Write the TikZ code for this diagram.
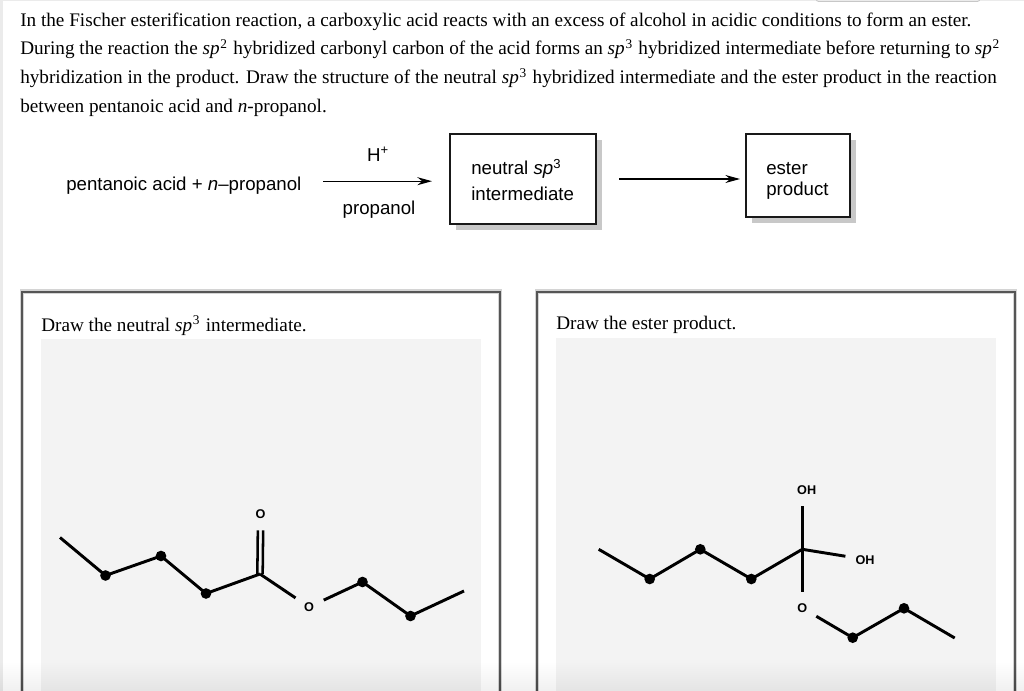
\documentclass[tikz,border=0pt]{standalone}
\usepackage{fontspec}
\setmainfont{Liberation Serif}
\setsansfont{Liberation Sans}
\usetikzlibrary{arrows.meta}
\definecolor{panelbg}{HTML}{F3F3F3}
\definecolor{shadowc}{HTML}{C8C8C8}
\definecolor{panelline}{HTML}{555555}
\definecolor{haloc}{HTML}{D4D4D4}
\newcommand{\spx}[1]{\textit{sp}\kern0.6pt\textsuperscript{#1}\kern4.2pt}
\tikzset{
  x=0.75pt,y=-0.75pt,
  para/.style={anchor=base west,inner sep=0pt,font=\rmfamily\fontsize{14.4pt}{16pt}\selectfont},
  sans/.style={inner sep=0pt,font=\sffamily\fontsize{14pt}{16pt}\selectfont},
  prompt/.style={para},
  flowbox/.style={draw=black!90,line width=1.2pt,fill=white,inner sep=0pt},
  flowarrow/.style={-{Stealth[length=11pt,width=6pt]},line width=0.95pt},
  bond/.style={line width=2.2pt,black},
  atomdot/.style={circle,fill=black,inner sep=0pt,minimum size=8pt},
  junction/.style={inner sep=0pt,minimum size=0pt},
  oxygen/.style={circle,inner sep=0pt,minimum size=24pt,font=\sffamily\bfseries\fontsize{9.5pt}{10pt}\selectfont},
  hydroxyl/.style={rectangle,inner sep=0pt,minimum width=29pt,minimum height=24pt,font=\sffamily\bfseries\fontsize{9.5pt}{10pt}\selectfont},
}
\begin{document}
\begin{tikzpicture}
\useasboundingbox (0,0) rectangle (1024,691);
\fill[white] (0,0) rectangle (1024,691);
% page edges
\fill[black!8] (0,0) rectangle (3,691);
\fill[black!8] (0,0) rectangle (1024,1);
\draw[black!22,line width=0.6pt,rounded corners=2pt] (816,-3) -- (816,1.5) -- (980,1.5) -- (980,-3);
% question text
\node[para] (l1) at (20,26.5) {In the Fischer esterification reaction, a carboxylic acid reacts with an excess of alcohol in acidic conditions to form an ester.};
\node[para] (l2) at (20,55) {During the reaction the \spx{2}hybridized carbonyl carbon of the acid forms an \spx{3}hybridized intermediate before returning to \textit{sp}\kern0.6pt\textsuperscript{2}};
\node[para] (l3) at (20,84) {\spaceskip=3.73pt hybridization in the product. Draw the structure of the neutral \spx{3}hybridized intermediate and the ester product in the reaction};
\node[para] (l4) at (20,112.5) {between pentanoic acid and \textit{n}-propanol.};
% flow scheme
\fill[shadowc] (456,140) rectangle (602,230);
\fill[shadowc] (752,140) rectangle (856,223);
\node[flowbox,minimum width=109.5pt,minimum height=67.5pt] (boxA) at (523,179.2) {};
\node[flowbox,minimum width=78pt,minimum height=62.25pt] (boxB) at (797.7,175.7) {};
\node[sans,anchor=base west] (reactants) at (66,190.5) {pentanoic acid + \textit{n}–propanol};
\node[sans,anchor=base] (hplus) at (378,161.5) {H\textsuperscript{+}};
\node[sans,anchor=base] (solvent) at (379,214.5) {propanol};
\node[sans,anchor=base west] (tA1) at (471,175) {neutral \textit{sp}\textsuperscript{3}};
\node[sans,anchor=base west] (tA2) at (471,200.5) {intermediate};
\node[sans,anchor=base west] (tB1) at (766,174.5) {ester};
\node[sans,anchor=base west] (tB2) at (766,196) {product};
\coordinate (a1s) at (323,181.2);
\coordinate (a1e) at (432,181.2);
\coordinate (a2s) at (619,179);
\coordinate (a2e) at (740,179);
\draw[flowarrow] (a1s) -- (a1e);
\draw[flowarrow] (a2s) -- (a2e);
% panels
\foreach \xa/\xb in {22/500,537/1015}{
  \draw[haloc,line width=3.4pt] (\xa,700) -- (\xa,291.5) -- (\xb,291.5) -- (\xb,700);
  \draw[panelline,line width=1.5pt] (\xa,700) -- (\xa,292.5) -- (\xb,292.5) -- (\xb,700);
}
\fill[panelbg] (41,339) rectangle (481,691);
\fill[panelbg] (556,338) rectangle (996,691);
\node[prompt] (pL) at (41,331.5) {Draw the neutral \spx{3}intermediate.};
\node[prompt] (pR) at (556,330) {Draw the ester product.};
% left molecule
\node[junction] (L1) at (60,537.5) {};
\node[atomdot] (L2) at (105.5,575.5) {};
\node[atomdot] (L3) at (161,556) {};
\node[atomdot] (L4) at (206,593.5) {};
\node[junction] (L5) at (260,574) {};
\node[oxygen] (LO1) at (260.5,514) {O};
\node[oxygen] (LO2) at (309,607) {O};
\node[atomdot] (L6) at (362.5,582) {};
\node[atomdot] (L7) at (410.5,616) {};
\node[junction] (L8) at (464,591) {};
\draw[bond,line join=round] (L1.center) -- (L2.center) -- (L3.center) -- (L4.center) -- (L5.center);
\draw[bond] (L5.center) -- (LO2);
\draw[bond,line join=round] (LO2) -- (L6.center) -- (L7.center) -- (L8.center);
\draw[line width=1.9pt] ([xshift=-2pt]L5.center) -- ([xshift=-2pt]LO1.south);
\draw[line width=1.9pt] ([xshift=2pt]L5.center) -- ([xshift=2pt]LO1.south);
% right molecule
\node[junction] (R1) at (598.7,549.3) {};
\node[atomdot] (R2) at (649.7,579) {};
\node[atomdot] (R3) at (700.3,549.3) {};
\node[atomdot] (R4) at (751.3,579) {};
\node[junction] (R5) at (802.3,549.3) {};
\node[hydroxyl] (ROH1) at (806.7,490) {OH};
\node[hydroxyl] (ROH2) at (865,559.7) {OH};
\node[oxygen] (RO) at (802.3,608) {O};
\node[atomdot] (R6) at (852.7,637.7) {};
\node[atomdot] (R7) at (904,608.3) {};
\node[junction] (R8) at (954.7,638) {};
\draw[bond,line join=round] (R1.center) -- (R2.center) -- (R3.center) -- (R4.center) -- (R5.center);
\draw[bond] (R5.center) -- (ROH1.south -| R5.center);
\draw[bond] (R5.center) -- (ROH2.170);
\draw[bond] (R5.center) -- (RO);
\draw[bond,line join=round] (RO) -- (R6.center) -- (R7.center) -- (R8.center);
% fade at the foot of the page
\foreach \i in {0,...,13}{
  \fill[black,opacity=0.0045] (0,{663+2*\i}) rectangle (1024,691);
}
\end{tikzpicture}
\end{document}
